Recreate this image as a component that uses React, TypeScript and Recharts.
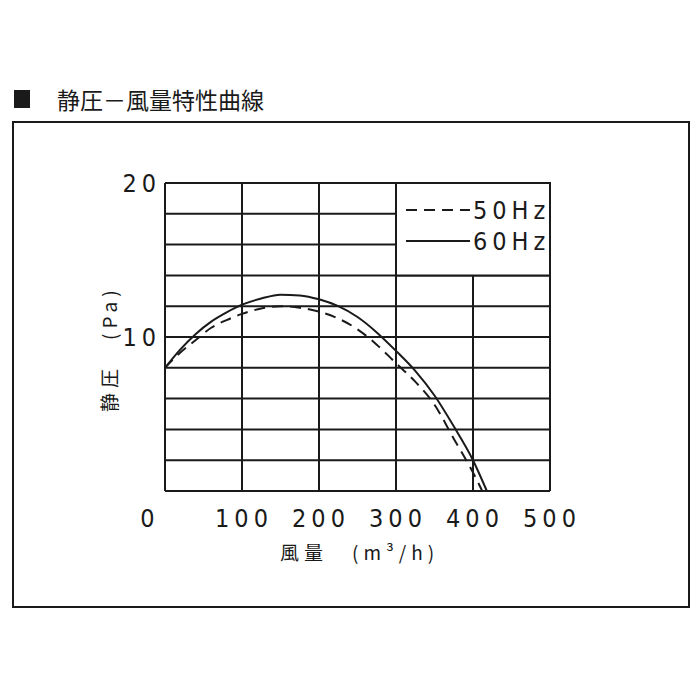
import { CartesianGrid, Legend, Line, LineChart, ReferenceArea, XAxis, YAxis } from "recharts"

const flow60 = [0, 20, 40, 60, 80, 100, 125, 150, 175, 200, 225, 250, 275, 300, 325, 350, 375, 400, 418]
const pressure60 = [8, 9.2, 10.2, 11.0, 11.6, 12.1, 12.5, 12.75, 12.7, 12.45, 12.0, 11.3, 10.3, 9.1, 7.8, 6.2, 4.2, 2.0, 0]
const flow50 = [0, 20, 40, 60, 80, 100, 125, 150, 175, 200, 225, 250, 275, 300, 325, 350, 375, 400, 412]
const pressure50 = [8, 9.0, 9.8, 10.6, 11.1, 11.5, 11.85, 12.0, 11.9, 11.65, 11.2, 10.5, 9.5, 8.3, 7.1, 5.6, 3.4, 1.2, 0]

const xTicks = [0, 100, 200, 300, 400, 500]
const yTicks = [0, 2, 4, 6, 8, 10, 12, 14, 16, 18, 20]
const yLabelled = [10, 20]

const data60 = flow60.map((q, i) => ({ q, p: pressure60[i] }))
const data50 = flow50.map((q, i) => ({ q, p: pressure50[i] }))

const ink = "#1a1a1a"
const numFont = "'Liberation Sans Narrow', 'DejaVu Sans Condensed', 'Liberation Sans', sans-serif"
const cjkFont = "'Noto Sans CJK JP', 'Noto Sans', sans-serif"

const XTick = ({ x, y, payload }: any) => (
  <text
    x={x + (payload.value === 0 ? -15 : 2)}
    y={y + 19}
    textAnchor="middle"
    dominantBaseline="central"
    fontFamily={numFont}
    fontSize={25}
    letterSpacing={5}
    fill={ink}
  >
    {payload.value}
  </text>
)

const YTick = ({ x, y, payload }: any) =>
  yLabelled.includes(payload.value) ? (
    <text
      x={x + 4}
      y={y}
      textAnchor="end"
      dominantBaseline="central"
      fontFamily={numFont}
      fontSize={25}
      letterSpacing={5}
      fill={ink}
    >
      {payload.value}
    </text>
  ) : null

const renderLegend = ({ payload }: any) => (
  <svg width={153} height={92}>
    {(payload || []).map((entry: any, i: number) => {
      const cy = 27 + i * 31
      return (
        <g key={entry.value}>
          <line
            x1={9}
            x2={73}
            y1={cy}
            y2={cy}
            stroke={ink}
            strokeWidth={2}
            strokeDasharray={entry.payload?.strokeDasharray}
          />
          <text
            x={76}
            y={cy}
            dominantBaseline="central"
            fontFamily={numFont}
            fontSize={25}
            letterSpacing={5}
            fill={ink}
          >
            {entry.value}
          </text>
        </g>
      )
    })}
  </svg>
)

export default function App() {
  return (
    <div style={{ position: "absolute", left: 0, top: 0, width: 700, height: 700, background: "#fff" }}>
      <div style={{ position: "absolute", left: 14, top: 90, width: 16, height: 18, background: ink }} />
      <div
        style={{
          position: "absolute",
          left: 57,
          top: 84,
          fontFamily: cjkFont,
          fontSize: 23,
          lineHeight: "30px",
          color: ink,
          whiteSpace: "nowrap",
        }}
      >
        静圧－風量特性曲線
      </div>
      <div
        style={{
          position: "absolute",
          left: 12,
          top: 121,
          width: 674,
          height: 483,
          border: `2px solid ${ink}`,
        }}
      />
      <div style={{ position: "absolute", left: 0, top: 0 }}>
        <LineChart width={700} height={700} margin={{ top: 183, right: 150, bottom: 169, left: 105 }}>
          <CartesianGrid stroke={ink} strokeWidth={2} horizontalValues={yTicks} verticalValues={xTicks} />
          <XAxis
            type="number"
            dataKey="q"
            domain={[0, 500]}
            ticks={xTicks}
            height={40}
            axisLine={false}
            tickLine={false}
            tick={<XTick />}
            interval={0}
            label={{
              content: () => (
                <text
                  x={280}
                  y={551}
                  dominantBaseline="central"
                  fontFamily={cjkFont}
                  fontSize={19}
                  letterSpacing={5}
                  fill={ink}
                >
                  風量　(m³/h)
                </text>
              ),
            }}
          />
          <YAxis
            type="number"
            dataKey="p"
            domain={[0, 20]}
            ticks={yTicks}
            width={60}
            axisLine={false}
            tickLine={false}
            tick={<YTick />}
            interval={0}
            label={{
              content: () => (
                <text
                  x={108}
                  y={412}
                  transform="rotate(-90 108 412)"
                  dominantBaseline="central"
                  fontFamily={cjkFont}
                  fontSize={19}
                  letterSpacing={5}
                  fill={ink}
                >
                  静圧　(Pa)
                </text>
              ),
            }}
          />
          <ReferenceArea
            x1={300}
            x2={500}
            y1={14}
            y2={20}
            fill="#fff"
            fillOpacity={1}
            stroke={ink}
            strokeWidth={2}
            ifOverflow="visible"
          />
          <Legend
            verticalAlign="middle"
            content={renderLegend}
            wrapperStyle={{ left: 397, top: 183, width: 153, height: 92 }}
          />
          <Line
            data={data50}
            dataKey="p"
            name="50Hz"
            type="monotone"
            stroke={ink}
            strokeWidth={2}
            strokeDasharray="11 7"
            dot={false}
            isAnimationActive={false}
          />
          <Line
            data={data60}
            dataKey="p"
            name="60Hz"
            type="monotone"
            stroke={ink}
            strokeWidth={2}
            dot={false}
            isAnimationActive={false}
          />
        </LineChart>
      </div>
    </div>
  )
}
